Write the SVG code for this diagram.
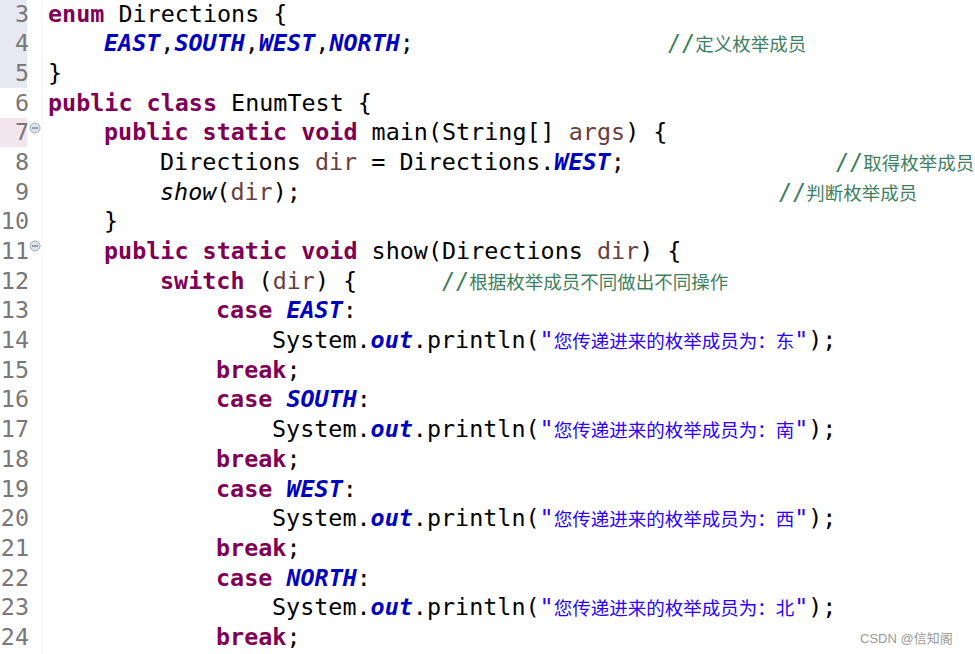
<svg xmlns="http://www.w3.org/2000/svg" width="975" height="654" viewBox="0 0 975 654">
<style>
.c{font-family:"DejaVu Sans Mono","Noto Sans CJK SC",monospace;font-size:23.4px;fill:#000;white-space:pre}
.n{font-family:"DejaVu Sans Mono",monospace;font-size:23.4px;fill:#787878;text-anchor:end}
.k{fill:#7F0055;font-weight:bold}
.f{fill:#0000C0;font-weight:bold;font-style:italic}
.p{fill:#6A3E3E}
.i{font-style:italic}
.s{fill:#2A00FF}
.m{fill:#3F7F5F}
.z{font-family:"Noto Sans CJK SC",sans-serif;font-size:18.5px}
</style>
<rect width="975" height="654" fill="#fff"/>
<g id="gutter">
<rect x="0" y="0" width="27" height="88" fill="#E8E8F2"/>
<rect x="0" y="118" width="27" height="29" fill="#F2E6EC"/>
<line x1="42" y1="0" x2="42" y2="654" stroke="#F0F0F0"/>
<circle cx="35" cy="128" r="5" fill="#DDE3EA" stroke="#9AAABB"/><line x1="32" y1="128" x2="38" y2="128" stroke="#4A6070"/>
<circle cx="35" cy="246" r="5" fill="#DDE3EA" stroke="#9AAABB"/><line x1="32" y1="246" x2="38" y2="246" stroke="#4A6070"/>
<text class="n" x="29" y="22">3</text><text class="n" x="29" y="51">4</text><text class="n" x="29" y="81">5</text><text class="n" x="29" y="111">6</text><text class="n" x="29" y="140">7</text><text class="n" x="29" y="170">8</text><text class="n" x="29" y="200">9</text><text class="n" x="29" y="229">10</text><text class="n" x="29" y="259">11</text><text class="n" x="29" y="289">12</text><text class="n" x="29" y="318">13</text><text class="n" x="29" y="348">14</text><text class="n" x="29" y="378">15</text><text class="n" x="29" y="407">16</text><text class="n" x="29" y="437">17</text><text class="n" x="29" y="467">18</text><text class="n" x="29" y="497">19</text><text class="n" x="29" y="526">20</text><text class="n" x="29" y="556">21</text><text class="n" x="29" y="586">22</text><text class="n" x="29" y="615">23</text><text class="n" x="29" y="645">24</text>
</g>
<g id="code">
<text class="c" x="48" y="22"><tspan class="k">enum</tspan> Directions {</text>
<text class="c" x="104" y="51"><tspan class="f">EAST</tspan>,<tspan class="f">SOUTH</tspan>,<tspan class="f">WEST</tspan>,<tspan class="f">NORTH</tspan>;</text>
<text class="c m" x="667" y="51">//<tspan class="z">定义枚举成员</tspan></text>
<text class="c" x="48" y="81">}</text>
<text class="c" x="48" y="111"><tspan class="k">public</tspan> <tspan class="k">class</tspan> EnumTest {</text>
<text class="c" x="104" y="140"><tspan class="k">public</tspan> <tspan class="k">static</tspan> <tspan class="k">void</tspan> main(String[] <tspan class="p">args</tspan>) {</text>
<text class="c" x="160" y="170">Directions <tspan class="p">dir</tspan> = Directions.<tspan class="f">WEST</tspan>;</text>
<text class="c m" x="835" y="170">//<tspan class="z">取得枚举成员</tspan></text>
<text class="c" x="160" y="200"><tspan class="i">show</tspan>(<tspan class="p">dir</tspan>);</text>
<text class="c m" x="778" y="200">//<tspan class="z">判断枚举成员</tspan></text>
<text class="c" x="104" y="229">}</text>
<text class="c" x="104" y="259"><tspan class="k">public</tspan> <tspan class="k">static</tspan> <tspan class="k">void</tspan> show(Directions <tspan class="p">dir</tspan>) {</text>
<text class="c" x="160" y="289"><tspan class="k">switch</tspan> (<tspan class="p">dir</tspan>) {</text>
<text class="c m" x="441" y="289">//<tspan class="z">根据枚举成员不同做出不同操作</tspan></text>
<text class="c" x="216" y="318"><tspan class="k">case</tspan> <tspan class="f">EAST</tspan>:</text>
<text class="c" x="272" y="348">System.<tspan class="f">out</tspan>.println(<tspan class="s">"<tspan class="z">您传递进来的枚举成员为：东</tspan>"</tspan>);</text>
<text class="c" x="216" y="378"><tspan class="k">break</tspan>;</text>
<text class="c" x="216" y="407"><tspan class="k">case</tspan> <tspan class="f">SOUTH</tspan>:</text>
<text class="c" x="272" y="437">System.<tspan class="f">out</tspan>.println(<tspan class="s">"<tspan class="z">您传递进来的枚举成员为：南</tspan>"</tspan>);</text>
<text class="c" x="216" y="467"><tspan class="k">break</tspan>;</text>
<text class="c" x="216" y="497"><tspan class="k">case</tspan> <tspan class="f">WEST</tspan>:</text>
<text class="c" x="272" y="526">System.<tspan class="f">out</tspan>.println(<tspan class="s">"<tspan class="z">您传递进来的枚举成员为：西</tspan>"</tspan>);</text>
<text class="c" x="216" y="556"><tspan class="k">break</tspan>;</text>
<text class="c" x="216" y="586"><tspan class="k">case</tspan> <tspan class="f">NORTH</tspan>:</text>
<text class="c" x="272" y="615">System.<tspan class="f">out</tspan>.println(<tspan class="s">"<tspan class="z">您传递进来的枚举成员为：北</tspan>"</tspan>);</text>
<text class="c" x="216" y="645"><tspan class="k">break</tspan>;</text>
</g>
<text x="860" y="643" font-family="'Liberation Sans','Noto Sans CJK SC',sans-serif" font-size="13" fill="#9A9A9A">CSDN @信知阁</text>
</svg>
